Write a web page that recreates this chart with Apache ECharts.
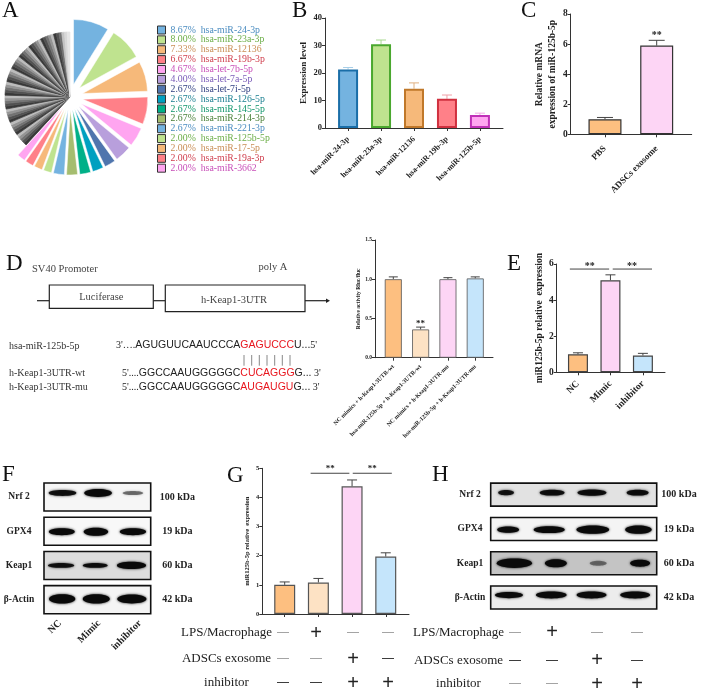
<!DOCTYPE html>
<html><head><meta charset="utf-8">
<style>html,body{margin:0;padding:0;background:#fff}#c{width:701px;height:692px}</style>
<script src="https://cdn.jsdelivr.net/npm/echarts@6/dist/echarts.min.js"></script>
</head><body><div id="c"></div>
<script>
// ---------- Panel A data ----------
const miRNames = ['hsa-miR-24-3p','hsa-miR-23a-3p','hsa-miR-12136','hsa-miR-19b-3p','hsa-let-7b-5p','hsa-let-7a-5p','hsa-let-7i-5p','hsa-miR-126-5p','hsa-miR-145-5p','hsa-miR-214-3p','hsa-miR-221-3p','hsa-miR-125b-5p','hsa-miR-17-5p','hsa-miR-19a-3p','hsa-miR-3662'];
const miRShares = [8.67,8.00,7.33,6.67,4.67,4.00,2.67,2.67,2.67,2.67,2.67,2.00,2.00,2.00,2.00];
const otherShares = [0.67,0.67,0.67,0.67,0.67,0.67,0.67,0.67,0.67,0.67,0.67,0.67,0.67,0.67,0.67,0.67,0.67,0.67,0.67,0.67,0.67,0.67,0.67,0.67,0.67,0.67,0.67,0.67,0.67,0.67,0.67,0.67,0.67,0.67,0.67,0.67,0.67,0.67,0.67,0.67,0.67,0.67,0.67,0.67,0.67,0.67,0.67,0.67,0.67,0.67,0.67,0.67,0.67,0.67,0.67,0.67];
// ---------- Panel B ----------
const bCats = ['hsa-miR-24-3p','hsa-miR-23a-3p','hsa-miR-12136','hsa-miR-19b-3p','hsa-miR-125b-5p'];
const bVals = [21.3,30.5,14.3,10.6,4.7];
const bErrs = [22.0,32.0,16.4,12.0,5.4];
// ---------- Panel C ----------
const cCats = ['PBS','ADSCs exosome'];
const cVals = [1.0,5.9];
const cErrs = [1.12,6.25];
// ---------- Panel D ----------
const dCats = ['NC mimics + h-Keap1-3UTR-wt','hsa-miR-125b-5p + h-Keap1-3UTR-wt','NC mimics + h-Keap1-3UTR-mu','hsa-miR-125b-5p + h-Keap1-3UTR-mu'];
const dVals = [1.0,0.36,1.0,1.01];
const dErrs = [1.03,0.39,1.02,1.03];
// ---------- Panel E ----------
const eCats = ['NC','Mimic','inhibitor'];
const eVals = [1.0,5.1,0.93];
const eErrs = [1.08,5.4,1.05];
// ---------- Panel G ----------
const gCats = ['','','',''];
const gVals = [1.0,1.08,4.38,1.97];
const gErrs = [1.1,1.22,4.6,2.1];
// ---------- Blots: [lane position, width, thickness, darkness] per row ----------
const blotRows = ['Nrf 2','GPX4','Keap1','β-Actin'];
const blotSizes = ['100 kDa','19 kDa','60 kDa','42 kDa'];
const fLanes = ['NC','Mimic','inhibitor'];
const fBands = [
 [[0.52,0.78,0.17,0.92],[1.52,0.78,0.23,1],[2.50,0.58,0.12,0.5]],
 [[0.50,0.73,0.2,1],[1.46,0.69,0.24,1],[2.50,0.74,0.2,1]],
 [[0.48,0.74,0.14,0.92],[1.44,0.70,0.14,0.95],[2.46,0.82,0.21,1]],
 [[0.51,0.74,0.27,1],[1.47,0.76,0.27,1],[2.47,0.82,0.26,1]]
];
const hBands = [
 [[0.37,0.38,0.15,0.9],[1.48,0.6,0.17,0.95],[2.44,0.7,0.18,0.95],[3.54,0.53,0.17,0.95]],
 [[0.42,0.53,0.18,1],[1.41,0.75,0.2,1],[2.46,0.79,0.24,1],[3.56,0.64,0.24,1]],
 [[0.57,0.85,0.27,1],[1.57,0.53,0.24,1],[2.59,0.41,0.15,0.45],[3.6,0.48,0.2,1]],
 [[0.44,0.68,0.18,1],[1.46,0.74,0.2,1],[2.43,0.72,0.2,1],[3.48,0.72,0.2,1]]
];
// ---------- Treatment tables ----------
const treatRows = ['LPS/Macrophage','ADSCs exosome','inhibitor'];
const gSigns = [['~','+','~','~'],['~','~','+','-'],['-','-','+','+']];
const hSigns = [['~','+','~','~'],['-','-','+','-'],['~','~','+','+']];

const SERIF = '"Liberation Serif","Times New Roman",serif';
const SANS = '"Liberation Sans",Arial,sans-serif';
const blue='#74b3e0',green='#bfe38f',orange='#f6b97a',red='#ff8088',pink='#ffa5f0';
const sliceColors=[blue,green,orange,red,pink,'#b89fdc','#4f75ad','#00a0c0','#00b088','#a5bd6f',blue,green,orange,red,pink];
const labelColors=['#4a8cc0','#6cae48','#c98d55','#d0404f','#c84fb8','#7a5cb8','#2f3f80','#1a7f90','#10956b','#4a8038','#4a8cc0','#6cae48','#c98d55','#d0404f','#c84fb8'];
const greyCycle=['#383838','#525252','#727272','#949494','#bcbcbc'];

const grid=[],xAxis=[],yAxis=[],series=[],graphic=[];

// pie
const pieData=miRNames.map((n,i)=>({name:n,value:miRShares[i],selected:true,
  itemStyle:{color:sliceColors[i],borderColor:'#fff',borderWidth:0.5},
  select:{itemStyle:{color:sliceColors[i],borderColor:'#fff',borderWidth:0.5}}}))
 .concat(otherShares.map((v,i)=>{const col=i>52?['#c4c4c4','#d8d8d8','#e6e6e6'][i-53]:greyCycle[i%5];
   return {name:'other'+i,value:v,itemStyle:{color:col,borderColor:col,borderWidth:0.7}};}));
series.push({type:'pie',center:[70,97],radius:[0,65],startAngle:90,clockwise:true,selectedMode:'multiple',selectedOffset:13,
  label:{show:false},labelLine:{show:false},silent:true,data:pieData});
const legend={left:157,top:25,padding:0,orient:'vertical',itemWidth:8,itemHeight:8,itemGap:-0.13,selectedMode:false,
  textStyle:{fontFamily:SERIF,fontSize:9.8},
  formatter:n=>miRShares[miRNames.indexOf(n)].toFixed(2)+'%  '+n,
  data:miRNames.map((n,i)=>({name:n,icon:'rect',itemStyle:{color:sliceColors[i],borderColor:'#333',borderWidth:1},textStyle:{color:labelColors[i]}}))};

function barPanel(p){
  const g=grid.length;
  grid.push({left:p.left,top:p.top,width:p.right-p.left,height:p.bottom-p.top});
  const ticks=p.cats.map((_,i)=>i);
  xAxis.push({gridIndex:g,type:'value',min:p.xMin,max:p.xMax,splitLine:{show:false},
    axisLine:{show:true,onZero:false,lineStyle:{color:'#333',width:1}},
    axisTick:{show:true,customValues:ticks,length:3,lineStyle:{color:'#333'}},
    axisLabel:{show:true,customValues:ticks,rotate:p.rotate,margin:p.xMargin,fontFamily:SERIF,fontWeight:'bold',fontSize:p.xFont,color:'#222',formatter:v=>p.cats[Math.round(v)]}});
  yAxis.push({gridIndex:g,type:'value',min:0,max:p.yMax,interval:p.yInt,splitLine:{show:false},
    axisLine:{show:true,onZero:false,lineStyle:{color:'#333',width:1}},axisTick:{show:true,length:3,lineStyle:{color:'#333'}},
    axisLabel:{margin:3,fontFamily:SERIF,fontWeight:'bold',fontSize:p.yFont,color:'#222',formatter:p.yFmt||(v=>v)},
    name:p.yName,nameLocation:'middle',nameRotate:90,nameGap:p.nameGap,
    nameTextStyle:{fontFamily:SERIF,fontWeight:'bold',fontSize:p.nameFont,color:'#222',lineHeight:p.nameLine}});
  series.push({type:'bar',xAxisIndex:g,yAxisIndex:g,barWidth:p.barWidth,silent:true,
    data:p.vals.map((v,i)=>({value:[i,v],itemStyle:{color:p.fills[i],borderColor:p.strokes[i],borderWidth:p.bw}}))});
  series.push({type:'custom',xAxisIndex:g,yAxisIndex:g,silent:true,z:1,clip:false,
    data:p.vals.map((v,i)=>[i,v,p.errs[i]]),
    renderItem:(params,api)=>{
      const a=api.coord([api.value(0),api.value(1)]),b=api.coord([api.value(0),api.value(2)]);
      const s={stroke:p.errStrokes?p.errStrokes[params.dataIndex]:'#444',lineWidth:1};
      const c=p.capHalf;
      return {type:'group',children:[
        {type:'line',shape:{x1:a[0],y1:a[1],x2:b[0],y2:b[1]},style:s},
        {type:'line',shape:{x1:b[0]-c,y1:b[1],x2:b[0]+c,y2:b[1]},style:s}]};
    }});
  if(p.brackets) series.push({type:'custom',xAxisIndex:g,yAxisIndex:g,silent:true,clip:false,z:3,
    data:p.brackets,
    renderItem:(params,api)=>{
      const a=api.coord([api.value(0),api.value(2)]),b=api.coord([api.value(1),api.value(2)]);
      return {type:'line',shape:{x1:a[0],y1:a[1],x2:b[0],y2:b[1]},style:{stroke:'#444',lineWidth:1}};
    }});
  if(p.stars) series.push({type:'custom',xAxisIndex:g,yAxisIndex:g,silent:true,clip:false,z:3,
    data:p.stars,
    renderItem:(params,api)=>{
      const a=api.coord([api.value(0),api.value(1)]);
      return {type:'text',x:a[0],y:a[1],style:{text:'**',align:'center',verticalAlign:'middle',fontFamily:SERIF,fontWeight:'bold',fontSize:p.starFont,fill:'#222'}};
    }});
}
const softFills=['#fdbf80','#fde2c4','#fdd5f5','#c5e5fb'];
barPanel({left:325,right:503,top:18,bottom:128,xMin:-0.7,xMax:4.7,cats:bCats,vals:bVals,errs:bErrs,yMax:40,yInt:10,rotate:45,xMargin:10,xFont:8,yFont:8.5,yName:'Expression level',nameGap:17,nameFont:9,barWidth:20,bw:2,capHalf:5,
  fills:[blue,green,orange,red,pink],strokes:['#1a6ea8','#4aa82e','#c0782a','#d0303f','#c030b8'],errStrokes:['#a8cfe8','#a8d890','#e0b080','#f0a0a8','#f0a8e4']});
barPanel({left:570.7,right:691.7,top:14,bottom:134.3,xMin:-0.663,xMax:1.677,cats:cCats,vals:cVals,errs:cErrs,yMax:8,yInt:2,rotate:45,xMargin:13,xFont:9,yFont:9.5,yName:'Relative mRNA\nexpression of miR-125b-5p',nameGap:12,nameFont:9.5,nameLine:13,barWidth:33,bw:1.2,capHalf:8,
  fills:['#fdbf80','#fdd5f5'],strokes:['#333','#333'],stars:[[1,6.6]],starFont:10});
barPanel({left:375,right:493,top:240,bottom:357.7,xMin:-0.67,xMax:3.65,cats:dCats,vals:dVals,errs:dErrs,yMax:1.5,yInt:0.5,yFmt:v=>v.toFixed(1),rotate:45,xMargin:8,xFont:6,yFont:5.5,yName:'Relative activity Rluc/fluc',nameGap:13,nameFont:5.5,barWidth:17,bw:0.8,capHalf:4.5,
  fills:softFills,strokes:['#555','#555','#555','#555'],stars:[[1,0.44]],starFont:9});
barPanel({left:556.7,right:665,top:264,bottom:372.3,xMin:-0.655,xMax:2.68,cats:eCats,vals:eVals,errs:eErrs,yMax:6,yInt:2,rotate:45,xMargin:10,xFont:9.5,yFont:9.5,yName:'miR125b-5p relative  expression',nameGap:12,nameFont:9.5,barWidth:20,bw:1.2,capHalf:5,
  fills:['#fdbf80','#fdd5f5','#c5e5fb'],strokes:['#444','#444','#444'],brackets:[[-0.25,0.96,5.72],[1.07,2.28,5.72]],stars:[[0.36,5.85],[1.66,5.85]],starFont:10});
barPanel({left:262.3,right:409,top:468.3,bottom:614,xMin:-0.665,xMax:3.69,cats:gCats,vals:gVals,errs:gErrs,yMax:5,yInt:1,rotate:0,xMargin:5,xFont:6,yFont:6.5,yName:'miR125b-5p relative  expression',nameGap:11,nameFont:6.5,barWidth:21,bw:1.2,capHalf:5,
  fills:softFills,strokes:['#555','#555','#555','#555'],brackets:[[0.77,1.92,4.83],[2.02,3.18,4.83]],stars:[[1.35,4.98],[2.6,4.98]],starFont:9});

function blotPanel(p){
  const g=grid.length;
  grid.push({left:p.left,top:p.top,width:p.right-p.left,height:p.bottom-p.top});
  const n=p.bands[0].length;
  const lab=p.labelPos?{show:true,customValues:p.labelPos,rotate:45,margin:5,fontFamily:SERIF,fontWeight:'bold',fontSize:10,color:'#222',formatter:v=>p.lanes[Math.floor(v)]}:{show:false};
  xAxis.push({gridIndex:g,type:'value',min:0,max:n,splitLine:{show:false},axisLine:{show:false},axisTick:{show:false},axisLabel:lab});
  const yCommon={gridIndex:g,type:'category',inverse:true,axisLine:{show:false},axisTick:{show:false},splitLine:{show:false}};
  yAxis.push(Object.assign({},yCommon,{position:'left',data:blotRows,axisLabel:{align:'center',margin:p.leftMargin,fontFamily:SERIF,fontWeight:'bold',fontSize:9.5,color:'#222'}}));
  const yIdx=yAxis.length-1;
  yAxis.push(Object.assign({},yCommon,{position:'right',data:blotSizes,axisLabel:{align:'center',margin:p.rightMargin,fontFamily:SERIF,fontWeight:'bold',fontSize:10,color:'#222'}}));
  const xIdx=xAxis.length-1;
  series.push({type:'custom',xAxisIndex:xIdx,yAxisIndex:yIdx,silent:true,clip:false,z:2,
    data:p.bands.map((_,r)=>[r]),
    encode:{y:0},
    renderItem:(params,api)=>{
      const r=params.dataIndex;
      const a=api.coord([0,r]),b=api.coord([n,r]),h=api.size([0,1])[1]*p.frame;
      return {type:'rect',shape:{x:a[0],y:a[1]-h/2,width:b[0]-a[0],height:h},style:{fill:p.bg[r],stroke:'#111',lineWidth:1.6}};
    }});
  const flat=[];
  p.bands.forEach((row,r)=>row.forEach(b=>flat.push([b[0],r,b[1],b[2],b[3]])));
  series.push({type:'custom',xAxisIndex:xIdx,yAxisIndex:yIdx,silent:true,clip:false,z:3,
    data:flat,encode:{x:0,y:1},
    renderItem:(params,api)=>{
      const c=api.coord([api.value(0),api.value(1)]);
      const s=api.size([1,1]);
      const col='rgba(10,10,10,'+api.value(4)+')';
      return {type:'ellipse',shape:{cx:c[0],cy:c[1]+p.bandShift[api.value(1)],rx:s[0]*api.value(2)/2,ry:s[1]*api.value(3)/2},
        style:{fill:col,shadowBlur:2.5,shadowColor:col}};
    }});
}
blotPanel({left:44,right:150.7,top:479.9,bottom:616.8,bands:fBands,lanes:fLanes,labelPos:[0.45,1.55,2.7],frame:0.82,bandShift:[-4,0.5,0,-0.7],bg:['#f6f6f6','#f8f8f8','#dcdcdc','#f4f4f4'],leftMargin:25,rightMargin:26.6});
blotPanel({left:490.7,right:656.7,top:477.5,bottom:614.7,bands:hBands,frame:0.67,bandShift:[-2,0.7,0,-2.5],bg:['#e2e2e2','#f4f4f4','#c4c4c4','#ececec'],leftMargin:20.7,rightMargin:22.3});

// panel letters
function txt(x,y,text,o){graphic.push({type:'text',x:x,y:y,silent:true,style:Object.assign({text:text,align:'left',verticalAlign:'middle',fontFamily:SERIF,fontSize:10,fill:'#222'},o||{})});}
[['A',2,11],['B',292,11],['C',521,11],['D',6,264],['E',507,264],['F',2,475],['G',227,476],['H',432,475]].forEach(a=>txt(a[1],a[2],a[0],{fontSize:23,fill:'#111'}));

// construct diagram (panel D)
function line(x1,y1,x2,y2,stroke,w){graphic.push({type:'line',silent:true,shape:{x1,y1,x2,y2},style:{stroke:stroke||'#222',lineWidth:w||1}});}
function box(x,y,w,h){graphic.push({type:'rect',silent:true,shape:{x,y,width:w,height:h},style:{fill:'#fff',stroke:'#222',lineWidth:1.2}});}
line(37,300.7,49.3,300.7,'#222',1.2);line(153.3,300.7,165.3,300.7,'#222',1.2);line(305,300.7,327,300.7,'#222',1.2);
graphic.push({type:'polygon',silent:true,shape:{points:[[326,298.5],[330,300.7],[326,303]]},style:{fill:'#222'}});
box(49.3,285,104,23.3);box(165.3,285,139.7,26.7);
txt(32,269.5,'SV40 Promoter',{fontSize:10.5,fill:'#444'});
txt(273,267,'poly A',{fontSize:10.5,fill:'#444',align:'center'});
txt(101.3,297,'Luciferase',{fontSize:10.5,fill:'#444',align:'center'});
txt(234,300,'h-Keap1-3UTR',{fontSize:10.5,fill:'#444',align:'center'});
const seqRich={s:{fontFamily:SERIF,fontSize:10,fill:'#222'},b:{fontFamily:SANS,fontSize:10.5,fill:'#222'},r:{fontFamily:SANS,fontSize:10.5,fill:'#e8161e'}};
txt(9,346,'hsa-miR-125b-5p',{fontSize:10,fill:'#333'});
txt(9,373,'h-Keap1-3UTR-wt',{fontSize:10,fill:'#333'});
txt(9,387.7,'h-Keap1-3UTR-mu',{fontSize:10,fill:'#333'});
txt(116,345.5,"{s|3'….}{b|AGUGUUCAAUCCCA}{r|GAGUCCC}{b|U...}{s|5'}",{rich:seqRich});
txt(122,373,"{s|5'....}{b|GGCCAAUGGGGGC}{r|CUCAGGG}{b|G...} {s|3'}",{rich:seqRich});
txt(122,387.5,"{s|5'....}{b|GGCCAAUGGGGGC}{r|AUGAUGU}{b|G...} {s|3'}",{rich:seqRich});
[244,251.7,259.3,267,274.7,282.3,290].forEach(x=>line(x,355,x,365.7,'#888',1));

// treatment tables
function signTable(rows,signs,labelMid,xs,ys){
  rows.forEach((r,i)=>{
    txt(labelMid,ys[i],r,{align:'center',fontSize:13,fill:'#222'});
    signs[i].forEach((s,j)=>{
      const plus=s==='+';
      txt(xs[j],ys[i],plus?'+':'—',{align:'center',fontFamily:SANS,fontSize:plus?20:12,fill:s==='~'?'#999':'#222'});
    });
  });
}
signTable(treatRows,gSigns,226.5,[283,316,353,388],[633,659,683]);
signTable(treatRows,hSigns,458.5,[515,552,597,637],[632.7,660.7,684]);

const chart=echarts.init(document.getElementById('c'),null,{renderer:'canvas',width:701,height:692});
chart.setOption({animation:false,backgroundColor:'#fff',textStyle:{fontFamily:SERIF},legend,grid,xAxis,yAxis,series,graphic:{elements:graphic}});
</script></body></html>
